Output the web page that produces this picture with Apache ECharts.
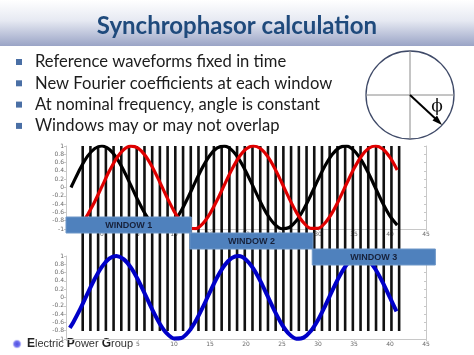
<!DOCTYPE html>
<html><head><meta charset="utf-8">
<script src="https://cdn.jsdelivr.net/npm/echarts@6/dist/echarts.min.js"></script>
<style>html,body{margin:0;padding:0;background:#fff}#c{width:474px;height:355px}</style>
</head><body><div id="c"></div>
<script>
// ---- data ----
const titleText = 'Synchrophasor calculation';
const bullets = [
  'Reference waveforms fixed in time',
  'New Fourier coefficients at each window',
  'At nominal frequency, angle is constant',
  'Windows may or may not overlap'
];
// time axis (x) is shared by both plots
const blackTimes = [-4.3, -4, -3, -2, -1, 0, 1, 2, 3, 4, 5, 6, 7, 8, 9, 10, 11, 12, 13, 14, 15, 16, 17, 18, 19, 20, 21, 22, 23, 24, 25, 26, 27, 28, 29, 30, 31, 32, 33, 34, 35, 36, 37, 38, 39, 40, 41];
const blackVals  = [0, 0.111, 0.465, 0.755, 0.941, 1.0, 0.921, 0.717, 0.415, 0.056, -0.311, -0.635, -0.872, -0.99, -0.973, -0.823, -0.561, -0.222, 0.148, 0.497, 0.778, 0.953, 0.998, 0.906, 0.691, 0.381, 0.019, -0.345, -0.663, -0.889, -0.995, -0.964, -0.802, -0.53, -0.186, 0.184, 0.528, 0.801, 0.964, 0.995, 0.89, 0.664, 0.347, -0.017, -0.379, -0.69, -0.906];
const redTimes = [-2.3, -2, -1, 0, 1, 2, 3, 4, 5, 6, 7, 8, 9, 10, 11, 12, 13, 14, 15, 16, 17, 18, 19, 20, 21, 22, 23, 24, 25, 26, 27, 28, 29, 30, 31, 32, 33, 34, 35, 36, 37, 38, 39, 40, 41];
const redVals  = [-0.736, -0.656, -0.337, 0.028, 0.389, 0.697, 0.91, 0.998, 0.951, 0.773, 0.489, 0.139, -0.23, -0.568, -0.828, -0.975, -0.989, -0.868, -0.628, -0.302, 0.064, 0.423, 0.723, 0.925, 1.0, 0.939, 0.749, 0.457, 0.103, -0.265, -0.598, -0.848, -0.983, -0.983, -0.849, -0.599, -0.267, 0.101, 0.455, 0.748, 0.938, 1.0, 0.925, 0.724, 0.424];
const blueTimes = [-4.47, -4, -3, -2, -1, 0, 1, 2, 3, 4, 5, 6, 7, 8, 9, 10, 11, 12, 13, 14, 15, 16, 17, 18, 19, 20, 21, 22, 23, 24, 25, 26, 27, 28, 29, 30, 31, 32, 33, 34, 35, 36, 37, 38, 39, 40, 40.9];
const blueVals  = [-0.731, -0.601, -0.27, 0.098, 0.453, 0.746, 0.937, 1.0, 0.926, 0.726, 0.427, 0.069, -0.298, -0.625, -0.866, -0.988, -0.976, -0.83, -0.571, -0.234, 0.135, 0.486, 0.77, 0.949, 0.999, 0.912, 0.7, 0.393, 0.032, -0.333, -0.653, -0.883, -0.993, -0.967, -0.809, -0.541, -0.199, 0.171, 0.517, 0.793, 0.96, 0.996, 0.896, 0.674, 0.359, -0.004, -0.332];
const sampleTimes = [-2.68, -1.61, -0.54, 0.54, 1.61, 2.68, 3.75, 4.82, 5.9, 6.97, 8.04, 9.11, 10.18, 11.26, 12.33, 13.4, 14.47, 15.54, 16.62, 17.69, 18.76, 19.83, 20.9, 21.98, 23.05, 24.12, 25.19, 26.26, 27.34, 28.41, 29.48, 30.55, 31.62, 32.7, 33.77, 34.84, 35.91, 36.98, 38.06, 39.13, 40.2, 41.27];
const windowLabels = ['WINDOW 1', 'WINDOW 2', 'WINDOW 3'];
const windowStart = [-5.0, 12.2, 29.2];
const windowEnd   = [12.4, 29.3, 46.3];
const xMin = -5, xMax = 45, xStep = 5;
const yMin = -1, yMax = 1, yStep = 0.2;

// ---- chart ----
const chart = echarts.init(document.getElementById('c'), null, {renderer: 'canvas'});
const zip = (a, b) => a.map((v, i) => [v, b[i]]);
const GL = 66, GR = 48;
const axisGray = '#c8c8c8';
const lblStyle = {fontSize: 6, color: '#6a6a6a', fontFamily: 'DejaVu Sans'};
function xAx(gi, hideZero) {
  return {type: 'value', gridIndex: gi, min: xMin, max: xMax, interval: xStep,
    axisLine: {show: true, onZero: false, lineStyle: {color: axisGray, width: 1}},
    axisTick: {show: true, length: 2, lineStyle: {color: axisGray}},
    splitLine: {show: false},
    axisLabel: Object.assign({margin: 2, formatter: v => (v === -5 || (hideZero && v === 0)) ? '' : String(v)}, lblStyle)};
}
function yAx(gi) {
  return {type: 'value', gridIndex: gi, min: yMin, max: yMax, interval: yStep,
    axisLine: {show: true, onZero: false, lineStyle: {color: axisGray}},
    axisTick: {show: true, length: 2, lineStyle: {color: axisGray}},
    splitLine: {show: false},
    axisLabel: Object.assign({margin: 2, formatter: v => String(Math.round(v * 10) / 10)}, lblStyle)};
}
function yAxR(gi) {
  return {type: 'value', gridIndex: gi, position: 'right', min: yMin, max: yMax, interval: yStep,
    axisLine: {show: true, onZero: false, lineStyle: {color: axisGray}},
    axisTick: {show: true, inside: true, length: 2, lineStyle: {color: axisGray}},
    splitLine: {show: false}, axisLabel: {show: false}};
}

const option = {
  animation: false,
  backgroundColor: '#ffffff',
  title: {text: titleText, left: 'center', top: 9,
    textStyle: {fontFamily: 'Lato', fontWeight: 'bold', fontSize: 24, color: '#1F4A7C'}},
  grid: [
    {left: GL, right: GR, top: 146, height: 83},
    {left: GL, right: GR, top: 256, height: 83},
    {left: GL, right: GR, top: 146, height: 185},
    {left: GL, right: GR, top: 217, height: 48}
  ],
  xAxis: [
    xAx(0, false), xAx(1, true),
    {type: 'value', gridIndex: 2, min: xMin, max: xMax, show: false},
    {type: 'value', gridIndex: 3, min: xMin, max: xMax, show: false}
  ],
  yAxis: [
    yAx(0), yAx(1),
    {type: 'value', gridIndex: 2, min: 0, max: 1, show: false},
    {type: 'category', gridIndex: 3, data: windowLabels, inverse: true, show: false},
    yAxR(0), yAxR(1)
  ],
  series: [
    {type: 'bar', xAxisIndex: 2, yAxisIndex: 2, data: sampleTimes.map(t => [t, 1]),
      barWidth: 2.6, itemStyle: {color: '#111111'}, z: 1, silent: true},
    {type: 'line', xAxisIndex: 0, yAxisIndex: 0, data: zip(blackTimes, blackVals), smooth: 0.3,
      showSymbol: false, lineStyle: {color: '#000000', width: 3.2}, z: 3},
    {type: 'line', xAxisIndex: 0, yAxisIndex: 0, data: zip(redTimes, redVals), smooth: 0.3,
      showSymbol: false, lineStyle: {color: '#e00000', width: 3.2}, z: 3},
    {type: 'line', xAxisIndex: 1, yAxisIndex: 1, data: zip(blueTimes, blueVals), smooth: 0.3,
      showSymbol: false, lineStyle: {color: '#0000c8', width: 4}, z: 3},
    {type: 'custom', xAxisIndex: 3, yAxisIndex: 3, z: 10, clip: false,
      data: windowStart.map((s, i) => [s, windowEnd[i], i]),
      renderItem: (params, api) => {
        const a = api.coord([api.value(0), api.value(2)]);
        const b = api.coord([api.value(1), api.value(2)]);
        const h = api.size([0, 1])[1];
        return {type: 'group', children: [
          {type: 'rect', shape: {x: a[0], y: a[1] - h / 2, width: b[0] - a[0], height: h},
            style: {fill: '#4F81BD', stroke: '#6f97c8', lineWidth: 1}},
          {type: 'text', style: {text: windowLabels[params.dataIndex], x: (a[0] + b[0]) / 2, y: a[1] + 0.5,
            align: 'center', verticalAlign: 'middle', font: 'bold 9px "Liberation Sans"', fill: '#17213a'}}
        ]};
      }}
  ],
  graphic: [
    {type: 'rect', z: -10, shape: {x: 0, y: 0, width: 474, height: 46},
      style: {fill: new echarts.graphic.LinearGradient(0, 0, 0, 1, [
        {offset: 0, color: '#ffffff'}, {offset: 0.45, color: '#e6e9f2'}, {offset: 1, color: '#9aa4c6'}])}},
    ...bullets.map((t, i) => ({type: 'group', children: [
      {type: 'rect', shape: {x: 16, y: 59 + i * 21.3, width: 6, height: 6}, style: {fill: '#4a6fa5'}},
      {type: 'text', style: {text: t, x: 35, y: 62 + i * 21.3, verticalAlign: 'middle',
        font: '16.6px Lato', fill: '#1c1c1c'}}
    ]})),
    {type: 'circle', shape: {cx: 410, cy: 95, r: 44}, style: {fill: 'none', stroke: '#3f4a68', lineWidth: 1.3}},
    {type: 'line', shape: {x1: 366, y1: 95, x2: 454, y2: 95}, style: {stroke: '#8a8a8a', lineWidth: 1}},
    {type: 'line', shape: {x1: 410, y1: 51, x2: 410, y2: 139}, style: {stroke: '#8a8a8a', lineWidth: 1}},
    {type: 'line', shape: {x1: 410, y1: 95, x2: 438, y2: 121}, style: {stroke: '#000', lineWidth: 2}},
    {type: 'polygon', shape: {points: [[442, 125], [432.5, 120.5], [437, 115.5]]}, style: {fill: '#000'}},
    {type: 'text', style: {text: 'ϕ', x: 437, y: 107, align: 'center', verticalAlign: 'middle',
      font: '17px "DejaVu Serif"', fill: '#111'}},
    {type: 'circle', shape: {cx: 17, cy: 344, r: 4.5},
      style: {fill: new echarts.graphic.RadialGradient(0.5, 0.5, 0.5, [
        {offset: 0, color: '#5050e0'}, {offset: 0.6, color: '#7070ee'}, {offset: 1, color: 'rgba(140,140,240,0.2)'}])}},
    {type: 'rect', shape: {x: 25, y: 338, width: 106, height: 13}, style: {fill: '#fff'}},
    {type: 'text', style: {x: 27, y: 344, verticalAlign: 'middle',
      text: '{b|E}lectric {b|P}ower {b|G}roup',
      rich: {b: {fontWeight: 'bold', fontSize: 12, fontFamily: 'Liberation Sans', fill: '#222'}},
      fontSize: 11, fontFamily: 'Liberation Sans', fill: '#333'}}
  ]
};
chart.setOption(option);
</script></body></html>
